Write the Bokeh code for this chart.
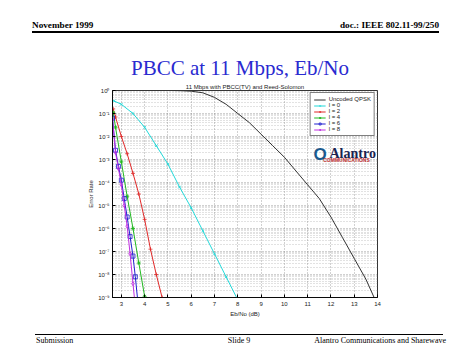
from bokeh.plotting import figure
from bokeh.models import (Label, FixedTicker, Legend, LegendItem, Range1d, Div)
from bokeh.layouts import column
from bokeh.embed import file_html
from bokeh.resources import INLINE

# ---- data ----
qpsk_ebno = [5.2, 5.6, 6.0, 6.5, 7.0, 7.5, 8.0, 8.5, 9.0, 9.5, 10.0, 10.5, 11.0, 11.5, 12.0, 12.5, 13.0, 13.5, 13.9]
qpsk_err = [1.0, 0.977, 0.933, 0.794, 0.501, 0.251, 0.1, 0.0398, 0.0126, 3.98e-3, 1.26e-3, 3.16e-4, 7.94e-5,
            2.0e-5, 3.16e-6, 3.98e-7, 5.0e-8, 6.3e-9, 7.9e-10]

l0_ebno = [2.68, 3.0, 3.5, 4.0, 4.5, 5.0, 5.5, 6.0, 6.5, 7.0, 7.5, 8.0]
l0_err = [0.355, 0.251, 0.1, 0.0251, 3.98e-3, 6.3e-4, 6.3e-5, 7.9e-6, 7.9e-7, 7.9e-8, 7.9e-9, 7.9e-10]

l2_ebno = [2.65, 2.75, 3.0, 3.25, 3.5, 3.75, 4.0, 4.25, 4.5, 4.75]
l2_err = [0.158, 0.0708, 0.01, 1.78e-3, 2.5e-4, 3.16e-5, 2.5e-6, 1.26e-7, 1e-8, 1e-9]

l4_ebno = [2.65, 2.75, 3.0, 3.25, 3.5, 3.75, 4.0, 4.05]
l4_err = [0.112, 0.0251, 7.9e-4, 2.5e-5, 1e-6, 3.16e-8, 1.12e-9, 6.3e-10]

l6_ebno = [2.62, 2.75, 2.875, 3.0, 3.125, 3.25, 3.375, 3.5, 3.6, 3.7]
l6_err = [0.0631, 2.51e-3, 5.01e-4, 1.26e-4, 2.0e-5, 3.16e-6, 4.47e-7, 6.31e-8, 7.94e-9, 7.94e-10]

l8_ebno = [2.62, 2.75, 2.875, 3.0, 3.125, 3.25, 3.375, 3.5, 3.58]
l8_err = [0.0562, 2.0e-3, 3.98e-4, 7.94e-5, 1e-5, 1.26e-6, 7.94e-8, 3.98e-9, 6.31e-10]

x_ticks = [3, 4, 5, 6, 7, 8, 9, 10, 11, 12, 13, 14]
y_tick_values = [1, 1e-1, 1e-2, 1e-3, 1e-4, 1e-5, 1e-6, 1e-7, 1e-8, 1e-9]
y_tick_labels = ["10⁰", "10⁻¹", "10⁻²", "10⁻³", "10⁻⁴", "10⁻⁵", "10⁻⁶", "10⁻⁷", "10⁻⁸", "10⁻⁹"]

series = [
    ("l = 0", l0_ebno, l0_err, "#22d8d8", "x"),
    ("l = 2", l2_ebno, l2_err, "#e02828", "cross"),
    ("l = 4", l4_ebno, l4_err, "#20b820", "asterisk"),
    ("l = 6", l6_ebno, l6_err, "#2020d0", "square"),
    ("l = 8", l8_ebno, l8_err, "#c030e0", "diamond"),
]

W = 474
HEAD_H, FIG_H, FOOT_H = 78, 242, 35
FL, FR = 112, 377
FT, FB = 90 - HEAD_H, 297 - HEAD_H   # frame top/bottom inside the figure

header = Div(width=W, height=HEAD_H, margin=(0, 0, 0, 0), text="""
<div style="position:relative;width:474px;height:78px;font-family:'Liberation Serif';color:black;">
  <div style="position:absolute;left:32px;top:20px;font-size:9.2px;font-weight:bold;line-height:10px;white-space:nowrap;">November 1999</div>
  <div style="position:absolute;right:35px;top:20px;font-size:9.2px;font-weight:bold;line-height:10px;white-space:nowrap;">doc.: IEEE 802.11-99/250</div>
  <div style="position:absolute;left:32px;top:31px;width:407px;height:1.5px;background:black;"></div>
  <div style="position:absolute;left:0px;width:480px;top:56px;text-align:center;font-size:21px;line-height:24px;color:#2a2ad0;white-space:nowrap;">PBCC at 11 Mbps, Eb/No</div>
</div>""")

footer = Div(width=W, height=FOOT_H, margin=(0, 0, 0, 0), text="""
<div style="position:relative;width:474px;height:35px;font-family:'Liberation Serif';color:black;">
  <div style="position:absolute;left:35px;top:13.5px;width:408px;height:1.5px;background:black;"></div>
  <div style="position:absolute;left:36px;top:15.5px;font-size:8px;line-height:9px;white-space:nowrap;">Submission</div>
  <div style="position:absolute;left:0px;width:478px;top:15.5px;text-align:center;font-size:8px;line-height:9px;white-space:nowrap;">Slide 9</div>
  <div style="position:absolute;right:28px;top:15.5px;font-size:8px;line-height:9px;white-space:nowrap;">Alantro Communications and Sharewave</div>
</div>""")

p = figure(width=W, height=FIG_H, output_backend="svg", toolbar_location=None,
           y_axis_type="log", x_range=Range1d(2.62, 14), y_range=Range1d(1e-9, 1),
           min_border_left=FL, min_border_right=W - FR, min_border_top=FT, min_border_bottom=FIG_H - FB,
           margin=(0, 0, 0, 0))
p.background_fill_color = "white"
p.border_fill_color = "white"
p.outline_line_color = "black"
p.outline_line_width = 0.8

p.title.text = "11 Mbps with PBCC(TV) and Reed-Solomon"
p.title.text_font = "Liberation Sans"
p.title.text_font_size = "6px"
p.title.text_font_style = "normal"
p.title.text_color = "#222222"
p.title.align = "center"
p.title.standoff = 2

# axes
p.xaxis.ticker = FixedTicker(ticks=x_ticks)
minor = [m * 10.0 ** k for k in range(-9, 0) for m in range(2, 10)]
p.yaxis.ticker = FixedTicker(ticks=y_tick_values, minor_ticks=minor)
p.yaxis.major_label_overrides = {v: s for v, s in zip(y_tick_values, y_tick_labels)}
for ax in (p.xaxis[0], p.yaxis[0]):
    ax.major_tick_in = 3
    ax.major_tick_out = 0
    ax.minor_tick_in = 0
    ax.minor_tick_out = 0
    ax.axis_line_color = "black"
    ax.axis_line_width = 0.8
    ax.major_label_text_font = "Liberation Sans"
    ax.major_label_text_font_size = "6px"
    ax.major_label_text_color = "#222222"
    ax.axis_label_text_font = "Liberation Sans"
    ax.axis_label_text_font_size = "6px"
    ax.axis_label_text_font_style = "normal"
    ax.axis_label_text_color = "#222222"
p.xaxis.major_label_standoff = 4
p.yaxis.major_label_standoff = 3
p.xaxis.axis_label = "Eb/No (dB)"
p.yaxis.axis_label = "Error Rate"
p.xaxis.axis_label_standoff = 2
p.yaxis.axis_label_standoff = 1

# grid
p.xgrid.grid_line_color = "#666666"
p.xgrid.grid_line_dash = "1 2"
p.xgrid.grid_line_width = 0.6
p.ygrid.grid_line_color = "#666666"
p.ygrid.grid_line_dash = "1 2"
p.ygrid.grid_line_width = 0.6
p.ygrid.minor_grid_line_color = "#8a8a8a"
p.ygrid.minor_grid_line_dash = "1 2"
p.ygrid.minor_grid_line_width = 0.5

items = []
qline = p.line(qpsk_ebno, qpsk_err, line_color="#333333", line_width=1)
items.append(LegendItem(label="Uncoded QPSK", renderers=[qline]))
for name, xs, ys, col, mk in series:
    ln = p.line(xs, ys, line_color=col, line_width=1)
    sc = p.scatter(xs, ys, marker=mk, size=4, line_color=col, fill_color=None, line_width=0.8)
    items.append(LegendItem(label=name, renderers=[ln, sc]))

legend = Legend(items=items, location="top_right")
legend.label_text_font = "Liberation Sans"
legend.label_text_font_size = "6px"
legend.label_text_color = "#222222"
legend.glyph_width = 12
legend.glyph_height = 5
legend.label_height = 5
legend.label_standoff = 3
legend.spacing = 0
legend.padding = 3
legend.margin = 2
legend.border_line_color = "black"
legend.border_line_width = 0.8
legend.background_fill_alpha = 1
p.add_layout(legend)

# logo inside the plot area
def lab(x, y, text, size, font="Liberation Serif", style="normal", color="black", align="left"):
    p.add_layout(Label(x=x, y=y, x_units="canvas", y_units="canvas", text=text,
                       text_font=font, text_font_size=size, text_font_style=style,
                       text_color=color, text_align=align, text_baseline="alphabetic"))

lab(313, 154 - HEAD_H, "O", "17px", font="Liberation Sans", style="bold", color="#1b5a8e")
lab(329, 153 - HEAD_H, "Alantro", "14px", style="bold", color="#1a2450")
lab(346, 159 - HEAD_H, "COMMUNICATIONS", "5px", font="Liberation Sans", style="bold", color="#c03030", align="center")

layout = column(header, p, footer, spacing=0, margin=(0, 0, 0, 0))
open("out.html", "w").write(file_html(layout, INLINE))
